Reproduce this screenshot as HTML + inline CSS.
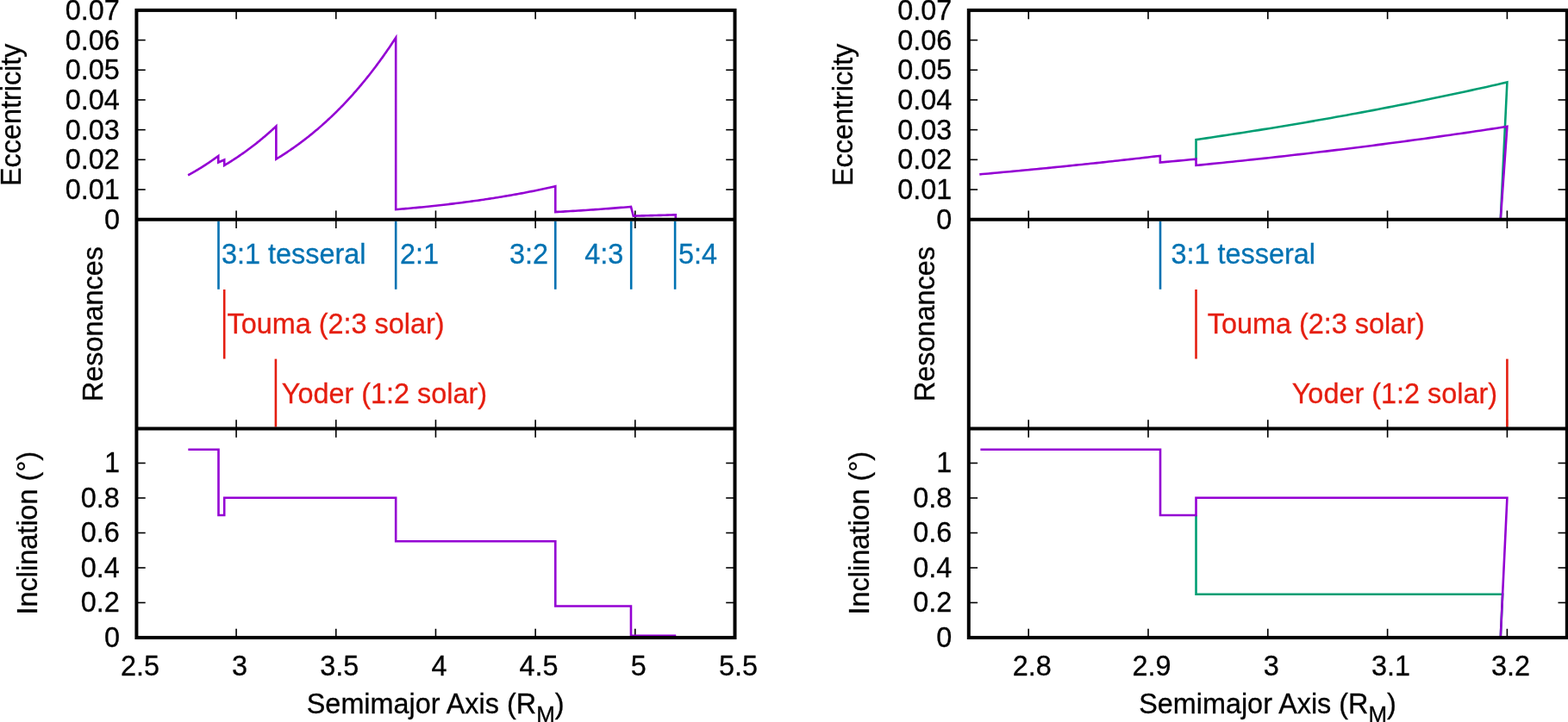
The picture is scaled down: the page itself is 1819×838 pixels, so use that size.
<!DOCTYPE html>
<html><head><meta charset="utf-8"><style>
html,body{margin:0;padding:0;background:#fff;overflow:hidden;}
svg{display:block;}
text{font-family:"Liberation Sans",Arial,Helvetica,sans-serif;font-size:32.4px;stroke-width:0.3px;}
</style></head><body>
<svg width="1819" height="838" viewBox="0 0 1819 838">
<rect width="1819" height="838" fill="#fff"/>
<line x1="274.09" y1="11.90" x2="274.09" y2="22.20" stroke="#000" stroke-width="1.6" stroke-linecap="butt"/>
<line x1="274.09" y1="254.75" x2="274.09" y2="244.45" stroke="#000" stroke-width="1.6" stroke-linecap="butt"/>
<line x1="274.09" y1="254.75" x2="274.09" y2="265.05" stroke="#000" stroke-width="1.6" stroke-linecap="butt"/>
<line x1="274.09" y1="497.45" x2="274.09" y2="487.15" stroke="#000" stroke-width="1.6" stroke-linecap="butt"/>
<line x1="274.09" y1="497.45" x2="274.09" y2="507.75" stroke="#000" stroke-width="1.6" stroke-linecap="butt"/>
<line x1="274.09" y1="740.10" x2="274.09" y2="729.80" stroke="#000" stroke-width="1.6" stroke-linecap="butt"/>
<line x1="389.77" y1="11.90" x2="389.77" y2="22.20" stroke="#000" stroke-width="1.6" stroke-linecap="butt"/>
<line x1="389.77" y1="254.75" x2="389.77" y2="244.45" stroke="#000" stroke-width="1.6" stroke-linecap="butt"/>
<line x1="389.77" y1="254.75" x2="389.77" y2="265.05" stroke="#000" stroke-width="1.6" stroke-linecap="butt"/>
<line x1="389.77" y1="497.45" x2="389.77" y2="487.15" stroke="#000" stroke-width="1.6" stroke-linecap="butt"/>
<line x1="389.77" y1="497.45" x2="389.77" y2="507.75" stroke="#000" stroke-width="1.6" stroke-linecap="butt"/>
<line x1="389.77" y1="740.10" x2="389.77" y2="729.80" stroke="#000" stroke-width="1.6" stroke-linecap="butt"/>
<line x1="505.46" y1="11.90" x2="505.46" y2="22.20" stroke="#000" stroke-width="1.6" stroke-linecap="butt"/>
<line x1="505.46" y1="254.75" x2="505.46" y2="244.45" stroke="#000" stroke-width="1.6" stroke-linecap="butt"/>
<line x1="505.46" y1="254.75" x2="505.46" y2="265.05" stroke="#000" stroke-width="1.6" stroke-linecap="butt"/>
<line x1="505.46" y1="497.45" x2="505.46" y2="487.15" stroke="#000" stroke-width="1.6" stroke-linecap="butt"/>
<line x1="505.46" y1="497.45" x2="505.46" y2="507.75" stroke="#000" stroke-width="1.6" stroke-linecap="butt"/>
<line x1="505.46" y1="740.10" x2="505.46" y2="729.80" stroke="#000" stroke-width="1.6" stroke-linecap="butt"/>
<line x1="621.14" y1="11.90" x2="621.14" y2="22.20" stroke="#000" stroke-width="1.6" stroke-linecap="butt"/>
<line x1="621.14" y1="254.75" x2="621.14" y2="244.45" stroke="#000" stroke-width="1.6" stroke-linecap="butt"/>
<line x1="621.14" y1="254.75" x2="621.14" y2="265.05" stroke="#000" stroke-width="1.6" stroke-linecap="butt"/>
<line x1="621.14" y1="497.45" x2="621.14" y2="487.15" stroke="#000" stroke-width="1.6" stroke-linecap="butt"/>
<line x1="621.14" y1="497.45" x2="621.14" y2="507.75" stroke="#000" stroke-width="1.6" stroke-linecap="butt"/>
<line x1="621.14" y1="740.10" x2="621.14" y2="729.80" stroke="#000" stroke-width="1.6" stroke-linecap="butt"/>
<line x1="736.82" y1="11.90" x2="736.82" y2="22.20" stroke="#000" stroke-width="1.6" stroke-linecap="butt"/>
<line x1="736.82" y1="254.75" x2="736.82" y2="244.45" stroke="#000" stroke-width="1.6" stroke-linecap="butt"/>
<line x1="736.82" y1="254.75" x2="736.82" y2="265.05" stroke="#000" stroke-width="1.6" stroke-linecap="butt"/>
<line x1="736.82" y1="497.45" x2="736.82" y2="487.15" stroke="#000" stroke-width="1.6" stroke-linecap="butt"/>
<line x1="736.82" y1="497.45" x2="736.82" y2="507.75" stroke="#000" stroke-width="1.6" stroke-linecap="butt"/>
<line x1="736.82" y1="740.10" x2="736.82" y2="729.80" stroke="#000" stroke-width="1.6" stroke-linecap="butt"/>
<line x1="158.40" y1="254.75" x2="168.70" y2="254.75" stroke="#000" stroke-width="1.6" stroke-linecap="butt"/>
<line x1="852.51" y1="254.75" x2="842.21" y2="254.75" stroke="#000" stroke-width="1.6" stroke-linecap="butt"/>
<line x1="158.40" y1="220.05" x2="168.70" y2="220.05" stroke="#000" stroke-width="1.6" stroke-linecap="butt"/>
<line x1="852.51" y1="220.05" x2="842.21" y2="220.05" stroke="#000" stroke-width="1.6" stroke-linecap="butt"/>
<line x1="158.40" y1="185.35" x2="168.70" y2="185.35" stroke="#000" stroke-width="1.6" stroke-linecap="butt"/>
<line x1="852.51" y1="185.35" x2="842.21" y2="185.35" stroke="#000" stroke-width="1.6" stroke-linecap="butt"/>
<line x1="158.40" y1="150.65" x2="168.70" y2="150.65" stroke="#000" stroke-width="1.6" stroke-linecap="butt"/>
<line x1="852.51" y1="150.65" x2="842.21" y2="150.65" stroke="#000" stroke-width="1.6" stroke-linecap="butt"/>
<line x1="158.40" y1="115.95" x2="168.70" y2="115.95" stroke="#000" stroke-width="1.6" stroke-linecap="butt"/>
<line x1="852.51" y1="115.95" x2="842.21" y2="115.95" stroke="#000" stroke-width="1.6" stroke-linecap="butt"/>
<line x1="158.40" y1="81.25" x2="168.70" y2="81.25" stroke="#000" stroke-width="1.6" stroke-linecap="butt"/>
<line x1="852.51" y1="81.25" x2="842.21" y2="81.25" stroke="#000" stroke-width="1.6" stroke-linecap="butt"/>
<line x1="158.40" y1="46.55" x2="168.70" y2="46.55" stroke="#000" stroke-width="1.6" stroke-linecap="butt"/>
<line x1="852.51" y1="46.55" x2="842.21" y2="46.55" stroke="#000" stroke-width="1.6" stroke-linecap="butt"/>
<line x1="158.40" y1="11.85" x2="168.70" y2="11.85" stroke="#000" stroke-width="1.6" stroke-linecap="butt"/>
<line x1="852.51" y1="11.85" x2="842.21" y2="11.85" stroke="#000" stroke-width="1.6" stroke-linecap="butt"/>
<line x1="158.40" y1="740.00" x2="168.70" y2="740.00" stroke="#000" stroke-width="1.6" stroke-linecap="butt"/>
<line x1="852.51" y1="740.00" x2="842.21" y2="740.00" stroke="#000" stroke-width="1.6" stroke-linecap="butt"/>
<line x1="158.40" y1="699.50" x2="168.70" y2="699.50" stroke="#000" stroke-width="1.6" stroke-linecap="butt"/>
<line x1="852.51" y1="699.50" x2="842.21" y2="699.50" stroke="#000" stroke-width="1.6" stroke-linecap="butt"/>
<line x1="158.40" y1="659.00" x2="168.70" y2="659.00" stroke="#000" stroke-width="1.6" stroke-linecap="butt"/>
<line x1="852.51" y1="659.00" x2="842.21" y2="659.00" stroke="#000" stroke-width="1.6" stroke-linecap="butt"/>
<line x1="158.40" y1="618.50" x2="168.70" y2="618.50" stroke="#000" stroke-width="1.6" stroke-linecap="butt"/>
<line x1="852.51" y1="618.50" x2="842.21" y2="618.50" stroke="#000" stroke-width="1.6" stroke-linecap="butt"/>
<line x1="158.40" y1="578.00" x2="168.70" y2="578.00" stroke="#000" stroke-width="1.6" stroke-linecap="butt"/>
<line x1="852.51" y1="578.00" x2="842.21" y2="578.00" stroke="#000" stroke-width="1.6" stroke-linecap="butt"/>
<line x1="158.40" y1="537.50" x2="168.70" y2="537.50" stroke="#000" stroke-width="1.6" stroke-linecap="butt"/>
<line x1="852.51" y1="537.50" x2="842.21" y2="537.50" stroke="#000" stroke-width="1.6" stroke-linecap="butt"/>
<text x="138.90" y="265.85" text-anchor="end" fill="#000" stroke="#000">0</text>
<text x="138.90" y="231.15" text-anchor="end" fill="#000" stroke="#000">0.01</text>
<text x="138.90" y="196.45" text-anchor="end" fill="#000" stroke="#000">0.02</text>
<text x="138.90" y="161.75" text-anchor="end" fill="#000" stroke="#000">0.03</text>
<text x="138.90" y="127.05" text-anchor="end" fill="#000" stroke="#000">0.04</text>
<text x="138.90" y="92.35" text-anchor="end" fill="#000" stroke="#000">0.05</text>
<text x="138.90" y="57.65" text-anchor="end" fill="#000" stroke="#000">0.06</text>
<text x="138.90" y="22.95" text-anchor="end" fill="#000" stroke="#000">0.07</text>
<text x="138.90" y="750.90" text-anchor="end" fill="#000" stroke="#000">0</text>
<text x="138.90" y="710.40" text-anchor="end" fill="#000" stroke="#000">0.2</text>
<text x="138.90" y="669.90" text-anchor="end" fill="#000" stroke="#000">0.4</text>
<text x="138.90" y="629.40" text-anchor="end" fill="#000" stroke="#000">0.6</text>
<text x="138.90" y="588.90" text-anchor="end" fill="#000" stroke="#000">0.8</text>
<text x="138.90" y="548.40" text-anchor="end" fill="#000" stroke="#000">1</text>
<text x="162.40" y="783.60" text-anchor="middle" fill="#000" stroke="#000">2.5</text>
<text x="278.09" y="783.60" text-anchor="middle" fill="#000" stroke="#000">3</text>
<text x="393.77" y="783.60" text-anchor="middle" fill="#000" stroke="#000">3.5</text>
<text x="509.46" y="783.60" text-anchor="middle" fill="#000" stroke="#000">4</text>
<text x="625.14" y="783.60" text-anchor="middle" fill="#000" stroke="#000">4.5</text>
<text x="740.82" y="783.60" text-anchor="middle" fill="#000" stroke="#000">5</text>
<text x="856.51" y="783.60" text-anchor="middle" fill="#000" stroke="#000">5.5</text>
<text x="505.15" y="828.30" text-anchor="middle" fill="#000" stroke="#000">Semimajor Axis (R<tspan font-size="25.9" dy="9.7">M</tspan><tspan dy="-9.7">)</tspan></text>
<text transform="translate(23.50,133.32) rotate(-90)" x="0" y="0" text-anchor="middle" fill="#000" stroke="#000">Eccentricity</text>
<text transform="translate(118.50,376.10) rotate(-90)" x="0" y="0" text-anchor="middle" fill="#000" stroke="#000">Resonances</text>
<text transform="translate(43.00,618.77) rotate(-90)" x="0" y="0" text-anchor="middle" fill="#000" stroke="#000">Inclination (°)</text>
<line x1="253.49" y1="256.65" x2="253.49" y2="335.80" stroke="#0072b2" stroke-width="2.6" stroke-linecap="butt"/>
<line x1="459.18" y1="256.65" x2="459.18" y2="335.80" stroke="#0072b2" stroke-width="2.6" stroke-linecap="butt"/>
<line x1="644.28" y1="256.65" x2="644.28" y2="335.80" stroke="#0072b2" stroke-width="2.6" stroke-linecap="butt"/>
<line x1="732.20" y1="256.65" x2="732.20" y2="335.80" stroke="#0072b2" stroke-width="2.6" stroke-linecap="butt"/>
<line x1="783.10" y1="256.65" x2="783.10" y2="335.80" stroke="#0072b2" stroke-width="2.6" stroke-linecap="butt"/>
<line x1="260.20" y1="336.00" x2="260.20" y2="416.50" stroke="#e51e10" stroke-width="2.6" stroke-linecap="butt"/>
<line x1="319.90" y1="416.60" x2="319.90" y2="495.55" stroke="#e51e10" stroke-width="2.6" stroke-linecap="butt"/>
<text x="257.00" y="306.40" text-anchor="start" fill="#0072b2" stroke="#0072b2">3:1 tesseral</text>
<text x="464.00" y="306.40" text-anchor="start" fill="#0072b2" stroke="#0072b2">2:1</text>
<text x="636.00" y="306.40" text-anchor="end" fill="#0072b2" stroke="#0072b2">3:2</text>
<text x="723.30" y="306.40" text-anchor="end" fill="#0072b2" stroke="#0072b2">4:3</text>
<text x="786.90" y="306.40" text-anchor="start" fill="#0072b2" stroke="#0072b2">5:4</text>
<text x="263.50" y="386.80" text-anchor="start" fill="#e51e10" stroke="#e51e10">Touma (2:3 solar)</text>
<text x="326.80" y="468.00" text-anchor="start" fill="#e51e10" stroke="#e51e10">Yoder (1:2 solar)</text>
<polyline points="218.09,203.39 218.68,203.08 219.27,202.75 219.85,202.43 220.44,202.11 221.02,201.78 221.61,201.46 222.20,201.13 222.78,200.80 223.37,200.46 223.95,200.13 224.54,199.79 225.13,199.45 225.71,199.11 226.30,198.77 226.89,198.43 227.47,198.09 228.06,197.74 228.64,197.39 229.23,197.04 229.82,196.69 230.40,196.33 230.99,195.98 231.57,195.62 232.16,195.26 232.75,194.90 233.33,194.54 233.92,194.17 234.51,193.80 235.09,193.43 235.68,193.06 236.26,192.69 236.85,192.32 237.44,191.94 238.02,191.56 238.61,191.18 239.19,190.80 239.78,190.41 240.37,190.03 240.95,189.64 241.54,189.25 242.13,188.86 242.71,188.46 243.30,188.07 243.88,187.67 244.47,187.27 245.06,186.86 245.64,186.46 246.23,186.05 246.81,185.64 247.40,185.23 247.99,184.82 248.57,184.41 249.16,183.99 249.74,183.57 250.33,183.15 250.92,182.73 251.50,182.30 252.09,181.87 252.68,181.44 253.26,181.01 253.26,188.47 254.42,187.99 255.58,187.50 256.73,187.01 257.89,186.52 259.05,186.02 260.20,185.52 260.20,191.94 261.21,191.35 262.21,190.74 263.21,190.14 264.21,189.53 265.22,188.91 266.22,188.29 267.22,187.66 268.22,187.03 269.23,186.39 270.23,185.75 271.23,185.11 272.23,184.45 273.24,183.80 274.24,183.13 275.24,182.47 276.24,181.80 277.25,181.12 278.25,180.43 279.25,179.75 280.25,179.05 281.26,178.35 282.26,177.65 283.26,176.94 284.27,176.22 285.27,175.50 286.27,174.78 287.27,174.04 288.28,173.31 289.28,172.56 290.28,171.81 291.28,171.06 292.29,170.30 293.29,169.53 294.29,168.76 295.29,167.98 296.30,167.19 297.30,166.40 298.30,165.61 299.30,164.80 300.31,164.00 301.31,163.18 302.31,162.36 303.31,161.53 304.32,160.70 305.32,159.86 306.32,159.01 307.33,158.16 308.33,157.30 309.33,156.44 310.33,155.57 311.34,154.69 312.34,153.80 313.34,152.91 314.34,152.02 315.35,151.11 316.35,150.20 317.35,149.28 318.35,148.36 319.36,147.42 320.36,146.49 320.36,184.66 321.52,183.95 322.67,183.24 323.83,182.52 324.99,181.80 326.14,181.07 327.30,180.33 328.46,179.59 329.61,178.84 330.77,178.09 331.93,177.33 333.08,176.56 334.24,175.79 335.40,175.01 336.55,174.22 337.71,173.43 338.87,172.63 340.03,171.83 341.18,171.01 342.34,170.19 343.50,169.37 344.65,168.53 345.81,167.69 346.97,166.85 348.12,165.99 349.28,165.13 350.44,164.27 351.59,163.39 352.75,162.51 353.91,161.62 355.06,160.72 356.22,159.82 357.38,158.91 358.54,157.99 359.69,157.07 360.85,156.13 362.01,155.19 363.16,154.24 364.32,153.29 365.48,152.33 366.63,151.35 367.79,150.38 368.95,149.39 370.10,148.39 371.26,147.39 372.42,146.38 373.57,145.36 374.73,144.34 375.89,143.30 377.04,142.26 378.20,141.21 379.36,140.15 380.52,139.08 381.67,138.01 382.83,136.92 383.99,135.83 385.14,134.73 386.30,133.62 387.46,132.50 388.61,131.37 389.77,130.23 390.93,129.09 392.08,127.94 393.24,126.77 394.40,125.60 395.55,124.42 396.71,123.23 397.87,122.03 399.02,120.82 400.18,119.61 401.34,118.38 402.50,117.14 403.65,115.90 404.81,114.64 405.97,113.38 407.12,112.10 408.28,110.82 409.44,109.52 410.59,108.22 411.75,106.91 412.91,105.58 414.06,104.25 415.22,102.91 416.38,101.55 417.53,100.19 418.69,98.82 419.85,97.43 421.00,96.04 422.16,94.63 423.32,93.22 424.48,91.79 425.63,90.35 426.79,88.91 427.95,87.45 429.10,85.98 430.26,84.50 431.42,83.01 432.57,81.51 433.73,79.99 434.89,78.47 436.04,76.93 437.20,75.39 438.36,73.83 439.51,72.26 440.67,70.68 441.83,69.09 442.99,67.48 444.14,65.87 445.30,64.24 446.46,62.60 447.61,60.95 448.77,59.29 449.93,57.61 451.08,55.93 452.24,54.23 453.40,52.52 454.55,50.79 455.71,49.06 456.87,47.31 458.02,45.55 459.18,43.77 459.18,243.16 461.49,242.97 463.81,242.77 466.12,242.57 468.44,242.37 470.75,242.17 473.06,241.96 475.38,241.75 477.69,241.54 480.00,241.32 482.32,241.10 484.63,240.88 486.95,240.66 489.26,240.43 491.57,240.20 493.89,239.97 496.20,239.73 498.51,239.49 500.83,239.25 503.14,239.00 505.46,238.75 507.77,238.50 510.08,238.24 512.40,237.98 514.71,237.72 517.02,237.45 519.34,237.18 521.65,236.91 523.96,236.63 526.28,236.35 528.59,236.06 530.91,235.78 533.22,235.48 535.53,235.19 537.85,234.89 540.16,234.58 542.47,234.28 544.79,233.97 547.10,233.65 549.42,233.33 551.73,233.01 554.04,232.68 556.36,232.35 558.67,232.01 560.98,231.67 563.30,231.33 565.61,230.98 567.92,230.63 570.24,230.27 572.55,229.91 574.87,229.54 577.18,229.17 579.49,228.80 581.81,228.42 584.12,228.03 586.43,227.64 588.75,227.25 591.06,226.85 593.38,226.45 595.69,226.04 598.00,225.62 600.32,225.20 602.63,224.78 604.94,224.35 607.26,223.92 609.57,223.48 611.89,223.03 614.20,222.58 616.51,222.13 618.83,221.67 621.14,221.20 623.45,220.73 625.77,220.25 628.08,219.77 630.39,219.28 632.71,218.79 635.02,218.29 637.34,217.79 639.65,217.27 641.96,216.76 644.28,216.23 644.28,246.07 647.20,245.91 650.12,245.75 653.05,245.58 655.97,245.41 658.89,245.24 661.81,245.06 664.74,244.88 667.66,244.70 670.58,244.52 673.51,244.33 676.43,244.14 679.35,243.95 682.28,243.75 685.20,243.55 688.12,243.35 691.04,243.15 693.97,242.94 696.89,242.73 699.81,242.51 702.74,242.30 705.66,242.08 708.58,241.85 711.51,241.62 714.43,241.39 717.35,241.16 720.27,240.92 723.20,240.68 726.12,240.43 729.04,240.19 731.97,239.93 734.74,250.66 737.20,250.60 739.65,250.54 742.10,250.48 744.55,250.42 747.01,250.35 749.46,250.29 751.91,250.23 754.36,250.17 756.82,250.10 759.27,250.04 761.72,249.97 764.17,249.90 766.63,249.83 769.08,249.77 771.53,249.70 773.98,249.63 776.44,249.55 778.89,249.48 781.34,249.41 783.79,249.34 783.79,254.75" fill="none" stroke="#9400d3" stroke-width="2.6" stroke-linejoin="miter" stroke-linecap="butt"/>
<polyline points="218.32,521.70 253.49,521.70 253.49,598.05 260.20,598.05 260.20,577.70 459.18,577.70 459.18,628.32 644.28,628.32 644.28,703.45 731.97,703.45 731.97,737.77 784.26,737.77" fill="none" stroke="#9400d3" stroke-width="2.6" stroke-linejoin="miter" stroke-linecap="butt"/>
<rect x="158.40" y="11.90" width="694.11" height="728.20" fill="none" stroke="#000" stroke-width="4.0"/>
<line x1="158.40" y1="254.75" x2="852.51" y2="254.75" stroke="#000" stroke-width="4.0" stroke-linecap="butt"/>
<line x1="158.40" y1="497.45" x2="852.51" y2="497.45" stroke="#000" stroke-width="4.0" stroke-linecap="butt"/>
<line x1="1193.20" y1="11.90" x2="1193.20" y2="22.20" stroke="#000" stroke-width="1.6" stroke-linecap="butt"/>
<line x1="1193.20" y1="254.75" x2="1193.20" y2="244.45" stroke="#000" stroke-width="1.6" stroke-linecap="butt"/>
<line x1="1193.20" y1="254.75" x2="1193.20" y2="265.05" stroke="#000" stroke-width="1.6" stroke-linecap="butt"/>
<line x1="1193.20" y1="497.45" x2="1193.20" y2="487.15" stroke="#000" stroke-width="1.6" stroke-linecap="butt"/>
<line x1="1193.20" y1="497.45" x2="1193.20" y2="507.75" stroke="#000" stroke-width="1.6" stroke-linecap="butt"/>
<line x1="1193.20" y1="740.10" x2="1193.20" y2="729.80" stroke="#000" stroke-width="1.6" stroke-linecap="butt"/>
<line x1="1332.00" y1="11.90" x2="1332.00" y2="22.20" stroke="#000" stroke-width="1.6" stroke-linecap="butt"/>
<line x1="1332.00" y1="254.75" x2="1332.00" y2="244.45" stroke="#000" stroke-width="1.6" stroke-linecap="butt"/>
<line x1="1332.00" y1="254.75" x2="1332.00" y2="265.05" stroke="#000" stroke-width="1.6" stroke-linecap="butt"/>
<line x1="1332.00" y1="497.45" x2="1332.00" y2="487.15" stroke="#000" stroke-width="1.6" stroke-linecap="butt"/>
<line x1="1332.00" y1="497.45" x2="1332.00" y2="507.75" stroke="#000" stroke-width="1.6" stroke-linecap="butt"/>
<line x1="1332.00" y1="740.10" x2="1332.00" y2="729.80" stroke="#000" stroke-width="1.6" stroke-linecap="butt"/>
<line x1="1470.80" y1="11.90" x2="1470.80" y2="22.20" stroke="#000" stroke-width="1.6" stroke-linecap="butt"/>
<line x1="1470.80" y1="254.75" x2="1470.80" y2="244.45" stroke="#000" stroke-width="1.6" stroke-linecap="butt"/>
<line x1="1470.80" y1="254.75" x2="1470.80" y2="265.05" stroke="#000" stroke-width="1.6" stroke-linecap="butt"/>
<line x1="1470.80" y1="497.45" x2="1470.80" y2="487.15" stroke="#000" stroke-width="1.6" stroke-linecap="butt"/>
<line x1="1470.80" y1="497.45" x2="1470.80" y2="507.75" stroke="#000" stroke-width="1.6" stroke-linecap="butt"/>
<line x1="1470.80" y1="740.10" x2="1470.80" y2="729.80" stroke="#000" stroke-width="1.6" stroke-linecap="butt"/>
<line x1="1609.60" y1="11.90" x2="1609.60" y2="22.20" stroke="#000" stroke-width="1.6" stroke-linecap="butt"/>
<line x1="1609.60" y1="254.75" x2="1609.60" y2="244.45" stroke="#000" stroke-width="1.6" stroke-linecap="butt"/>
<line x1="1609.60" y1="254.75" x2="1609.60" y2="265.05" stroke="#000" stroke-width="1.6" stroke-linecap="butt"/>
<line x1="1609.60" y1="497.45" x2="1609.60" y2="487.15" stroke="#000" stroke-width="1.6" stroke-linecap="butt"/>
<line x1="1609.60" y1="497.45" x2="1609.60" y2="507.75" stroke="#000" stroke-width="1.6" stroke-linecap="butt"/>
<line x1="1609.60" y1="740.10" x2="1609.60" y2="729.80" stroke="#000" stroke-width="1.6" stroke-linecap="butt"/>
<line x1="1748.40" y1="11.90" x2="1748.40" y2="22.20" stroke="#000" stroke-width="1.6" stroke-linecap="butt"/>
<line x1="1748.40" y1="254.75" x2="1748.40" y2="244.45" stroke="#000" stroke-width="1.6" stroke-linecap="butt"/>
<line x1="1748.40" y1="254.75" x2="1748.40" y2="265.05" stroke="#000" stroke-width="1.6" stroke-linecap="butt"/>
<line x1="1748.40" y1="497.45" x2="1748.40" y2="487.15" stroke="#000" stroke-width="1.6" stroke-linecap="butt"/>
<line x1="1748.40" y1="497.45" x2="1748.40" y2="507.75" stroke="#000" stroke-width="1.6" stroke-linecap="butt"/>
<line x1="1748.40" y1="740.10" x2="1748.40" y2="729.80" stroke="#000" stroke-width="1.6" stroke-linecap="butt"/>
<line x1="1123.80" y1="254.75" x2="1134.10" y2="254.75" stroke="#000" stroke-width="1.6" stroke-linecap="butt"/>
<line x1="1817.80" y1="254.75" x2="1807.50" y2="254.75" stroke="#000" stroke-width="1.6" stroke-linecap="butt"/>
<line x1="1123.80" y1="220.05" x2="1134.10" y2="220.05" stroke="#000" stroke-width="1.6" stroke-linecap="butt"/>
<line x1="1817.80" y1="220.05" x2="1807.50" y2="220.05" stroke="#000" stroke-width="1.6" stroke-linecap="butt"/>
<line x1="1123.80" y1="185.35" x2="1134.10" y2="185.35" stroke="#000" stroke-width="1.6" stroke-linecap="butt"/>
<line x1="1817.80" y1="185.35" x2="1807.50" y2="185.35" stroke="#000" stroke-width="1.6" stroke-linecap="butt"/>
<line x1="1123.80" y1="150.65" x2="1134.10" y2="150.65" stroke="#000" stroke-width="1.6" stroke-linecap="butt"/>
<line x1="1817.80" y1="150.65" x2="1807.50" y2="150.65" stroke="#000" stroke-width="1.6" stroke-linecap="butt"/>
<line x1="1123.80" y1="115.95" x2="1134.10" y2="115.95" stroke="#000" stroke-width="1.6" stroke-linecap="butt"/>
<line x1="1817.80" y1="115.95" x2="1807.50" y2="115.95" stroke="#000" stroke-width="1.6" stroke-linecap="butt"/>
<line x1="1123.80" y1="81.25" x2="1134.10" y2="81.25" stroke="#000" stroke-width="1.6" stroke-linecap="butt"/>
<line x1="1817.80" y1="81.25" x2="1807.50" y2="81.25" stroke="#000" stroke-width="1.6" stroke-linecap="butt"/>
<line x1="1123.80" y1="46.55" x2="1134.10" y2="46.55" stroke="#000" stroke-width="1.6" stroke-linecap="butt"/>
<line x1="1817.80" y1="46.55" x2="1807.50" y2="46.55" stroke="#000" stroke-width="1.6" stroke-linecap="butt"/>
<line x1="1123.80" y1="11.85" x2="1134.10" y2="11.85" stroke="#000" stroke-width="1.6" stroke-linecap="butt"/>
<line x1="1817.80" y1="11.85" x2="1807.50" y2="11.85" stroke="#000" stroke-width="1.6" stroke-linecap="butt"/>
<line x1="1123.80" y1="740.00" x2="1134.10" y2="740.00" stroke="#000" stroke-width="1.6" stroke-linecap="butt"/>
<line x1="1817.80" y1="740.00" x2="1807.50" y2="740.00" stroke="#000" stroke-width="1.6" stroke-linecap="butt"/>
<line x1="1123.80" y1="699.50" x2="1134.10" y2="699.50" stroke="#000" stroke-width="1.6" stroke-linecap="butt"/>
<line x1="1817.80" y1="699.50" x2="1807.50" y2="699.50" stroke="#000" stroke-width="1.6" stroke-linecap="butt"/>
<line x1="1123.80" y1="659.00" x2="1134.10" y2="659.00" stroke="#000" stroke-width="1.6" stroke-linecap="butt"/>
<line x1="1817.80" y1="659.00" x2="1807.50" y2="659.00" stroke="#000" stroke-width="1.6" stroke-linecap="butt"/>
<line x1="1123.80" y1="618.50" x2="1134.10" y2="618.50" stroke="#000" stroke-width="1.6" stroke-linecap="butt"/>
<line x1="1817.80" y1="618.50" x2="1807.50" y2="618.50" stroke="#000" stroke-width="1.6" stroke-linecap="butt"/>
<line x1="1123.80" y1="578.00" x2="1134.10" y2="578.00" stroke="#000" stroke-width="1.6" stroke-linecap="butt"/>
<line x1="1817.80" y1="578.00" x2="1807.50" y2="578.00" stroke="#000" stroke-width="1.6" stroke-linecap="butt"/>
<line x1="1123.80" y1="537.50" x2="1134.10" y2="537.50" stroke="#000" stroke-width="1.6" stroke-linecap="butt"/>
<line x1="1817.80" y1="537.50" x2="1807.50" y2="537.50" stroke="#000" stroke-width="1.6" stroke-linecap="butt"/>
<text x="1104.30" y="265.85" text-anchor="end" fill="#000" stroke="#000">0</text>
<text x="1104.30" y="231.15" text-anchor="end" fill="#000" stroke="#000">0.01</text>
<text x="1104.30" y="196.45" text-anchor="end" fill="#000" stroke="#000">0.02</text>
<text x="1104.30" y="161.75" text-anchor="end" fill="#000" stroke="#000">0.03</text>
<text x="1104.30" y="127.05" text-anchor="end" fill="#000" stroke="#000">0.04</text>
<text x="1104.30" y="92.35" text-anchor="end" fill="#000" stroke="#000">0.05</text>
<text x="1104.30" y="57.65" text-anchor="end" fill="#000" stroke="#000">0.06</text>
<text x="1104.30" y="22.95" text-anchor="end" fill="#000" stroke="#000">0.07</text>
<text x="1104.30" y="750.90" text-anchor="end" fill="#000" stroke="#000">0</text>
<text x="1104.30" y="710.40" text-anchor="end" fill="#000" stroke="#000">0.2</text>
<text x="1104.30" y="669.90" text-anchor="end" fill="#000" stroke="#000">0.4</text>
<text x="1104.30" y="629.40" text-anchor="end" fill="#000" stroke="#000">0.6</text>
<text x="1104.30" y="588.90" text-anchor="end" fill="#000" stroke="#000">0.8</text>
<text x="1104.30" y="548.40" text-anchor="end" fill="#000" stroke="#000">1</text>
<text x="1197.20" y="783.60" text-anchor="middle" fill="#000" stroke="#000">2.8</text>
<text x="1336.00" y="783.60" text-anchor="middle" fill="#000" stroke="#000">2.9</text>
<text x="1474.80" y="783.60" text-anchor="middle" fill="#000" stroke="#000">3</text>
<text x="1613.60" y="783.60" text-anchor="middle" fill="#000" stroke="#000">3.1</text>
<text x="1752.40" y="783.60" text-anchor="middle" fill="#000" stroke="#000">3.2</text>
<text x="1470.50" y="828.30" text-anchor="middle" fill="#000" stroke="#000">Semimajor Axis (R<tspan font-size="25.9" dy="9.7">M</tspan><tspan dy="-9.7">)</tspan></text>
<text transform="translate(988.90,133.32) rotate(-90)" x="0" y="0" text-anchor="middle" fill="#000" stroke="#000">Eccentricity</text>
<text transform="translate(1083.90,376.10) rotate(-90)" x="0" y="0" text-anchor="middle" fill="#000" stroke="#000">Resonances</text>
<text transform="translate(1008.40,618.77) rotate(-90)" x="0" y="0" text-anchor="middle" fill="#000" stroke="#000">Inclination (°)</text>
<line x1="1346.02" y1="256.65" x2="1346.02" y2="335.80" stroke="#0072b2" stroke-width="2.6" stroke-linecap="butt"/>
<line x1="1387.52" y1="336.00" x2="1387.52" y2="416.50" stroke="#e51e10" stroke-width="2.6" stroke-linecap="butt"/>
<line x1="1748.40" y1="416.60" x2="1748.40" y2="495.55" stroke="#e51e10" stroke-width="2.6" stroke-linecap="butt"/>
<text x="1358.50" y="306.40" text-anchor="start" fill="#0072b2" stroke="#0072b2">3:1 tesseral</text>
<text x="1400.70" y="386.80" text-anchor="start" fill="#e51e10" stroke="#e51e10">Touma (2:3 solar)</text>
<text x="1737.00" y="468.00" text-anchor="end" fill="#e51e10" stroke="#e51e10">Yoder (1:2 solar)</text>
<polyline points="1387.52,184.66 1387.52,162.10 1393.53,161.22 1399.55,160.34 1405.56,159.45 1411.58,158.55 1417.59,157.65 1423.61,156.74 1429.62,155.82 1435.64,154.89 1441.65,153.96 1447.67,153.02 1453.68,152.07 1459.70,151.11 1465.71,150.15 1471.73,149.18 1477.74,148.20 1483.75,147.21 1489.77,146.22 1495.78,145.22 1501.80,144.21 1507.81,143.19 1513.83,142.16 1519.84,141.13 1525.86,140.09 1531.87,139.04 1537.89,137.98 1543.90,136.92 1549.92,135.84 1555.93,134.76 1561.95,133.67 1567.96,132.57 1573.97,131.47 1579.99,130.35 1586.00,129.23 1592.02,128.10 1598.03,126.96 1604.05,125.81 1610.06,124.65 1616.08,123.48 1622.09,122.31 1628.11,121.12 1634.12,119.93 1640.14,118.72 1646.15,117.51 1652.17,116.29 1658.18,115.06 1664.19,113.82 1670.21,112.57 1676.22,111.32 1682.24,110.05 1688.25,108.77 1694.27,107.49 1700.28,106.19 1706.30,104.89 1712.31,103.57 1718.33,102.25 1724.34,100.91 1730.36,99.57 1736.37,98.21 1742.39,96.85 1748.40,95.48 1740.77,254.75" fill="none" stroke="#009e73" stroke-width="2.6" stroke-linejoin="miter" stroke-linecap="butt"/>
<polyline points="1387.52,598.05 1387.52,689.78 1743.13,689.78 1740.77,740.00" fill="none" stroke="#009e73" stroke-width="2.6" stroke-linejoin="miter" stroke-linecap="butt"/>
<polyline points="1136.29,202.35 1139.79,202.04 1143.28,201.73 1146.77,201.42 1150.26,201.11 1153.76,200.79 1157.25,200.47 1160.74,200.16 1164.24,199.83 1167.73,199.51 1171.22,199.19 1174.72,198.86 1178.21,198.54 1181.70,198.21 1185.20,197.88 1188.69,197.55 1192.18,197.22 1195.68,196.88 1199.17,196.54 1202.66,196.21 1206.15,195.87 1209.65,195.52 1213.14,195.18 1216.63,194.84 1220.13,194.49 1223.62,194.14 1227.11,193.79 1230.61,193.44 1234.10,193.09 1237.59,192.73 1241.09,192.38 1244.58,192.02 1248.07,191.66 1251.57,191.30 1255.06,190.93 1258.55,190.57 1262.04,190.20 1265.54,189.83 1269.03,189.46 1272.52,189.09 1276.02,188.71 1279.51,188.34 1283.00,187.96 1286.50,187.58 1289.99,187.20 1293.48,186.81 1296.98,186.43 1300.47,186.04 1303.96,185.65 1307.46,185.26 1310.95,184.87 1314.44,184.48 1317.93,184.08 1321.43,183.68 1324.92,183.28 1328.41,182.88 1331.91,182.47 1335.40,182.07 1338.89,181.66 1342.39,181.25 1345.88,180.84 1345.88,188.47 1352.82,187.85 1359.76,187.22 1366.70,186.59 1373.64,185.95 1380.58,185.30 1387.52,184.66 1387.52,191.94 1393.53,191.35 1399.55,190.75 1405.56,190.15 1411.58,189.54 1417.59,188.93 1423.61,188.31 1429.62,187.69 1435.64,187.06 1441.65,186.43 1447.67,185.79 1453.68,185.15 1459.70,184.50 1465.71,183.85 1471.73,183.19 1477.74,182.53 1483.75,181.86 1489.77,181.19 1495.78,180.51 1501.80,179.82 1507.81,179.14 1513.83,178.44 1519.84,177.74 1525.86,177.04 1531.87,176.33 1537.89,175.61 1543.90,174.89 1549.92,174.16 1555.93,173.43 1561.95,172.69 1567.96,171.95 1573.97,171.20 1579.99,170.44 1586.00,169.68 1592.02,168.92 1598.03,168.14 1604.05,167.37 1610.06,166.58 1616.08,165.79 1622.09,165.00 1628.11,164.19 1634.12,163.38 1640.14,162.57 1646.15,161.75 1652.17,160.92 1658.18,160.09 1664.19,159.25 1670.21,158.41 1676.22,157.56 1682.24,156.70 1688.25,155.83 1694.27,154.96 1700.28,154.09 1706.30,153.20 1712.31,152.31 1718.33,151.42 1724.34,150.51 1730.36,149.60 1736.37,148.69 1742.39,147.76 1748.40,146.83 1740.77,254.75" fill="none" stroke="#9400d3" stroke-width="2.6" stroke-linejoin="miter" stroke-linecap="butt"/>
<polyline points="1137.40,521.70 1346.02,521.70 1346.02,598.05 1387.52,598.05 1387.52,577.70 1748.40,577.70 1740.77,740.00" fill="none" stroke="#9400d3" stroke-width="2.6" stroke-linejoin="miter" stroke-linecap="butt"/>
<rect x="1123.80" y="11.90" width="694.00" height="728.20" fill="none" stroke="#000" stroke-width="4.0"/>
<line x1="1123.80" y1="254.75" x2="1817.80" y2="254.75" stroke="#000" stroke-width="4.0" stroke-linecap="butt"/>
<line x1="1123.80" y1="497.45" x2="1817.80" y2="497.45" stroke="#000" stroke-width="4.0" stroke-linecap="butt"/>
</svg>
</body></html>
